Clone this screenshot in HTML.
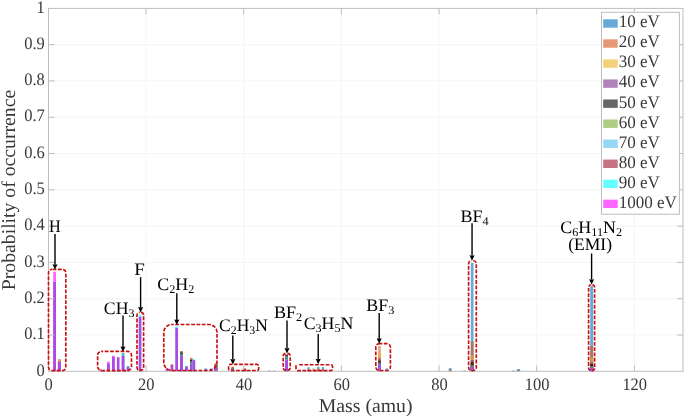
<!DOCTYPE html><html><head><meta charset="utf-8"><style>html,body{margin:0;padding:0;background:#fff;}svg{display:block;}text{font-family:"Liberation Serif","DejaVu Serif",serif;text-rendering:geometricPrecision;}</style></head><body>
<svg width="685" height="419" viewBox="0 0 685 419">
<rect x="0" y="0" width="685" height="419" fill="#fff"/>
<path d="M145.98 8.4V371.3 M243.66 8.4V371.3 M341.34 8.4V371.3 M439.02 8.4V371.3 M536.70 8.4V371.3 M634.38 8.4V371.3 M48.5 335.00H683.0 M48.5 298.71H683.0 M48.5 262.42H683.0 M48.5 226.12H683.0 M48.5 189.83H683.0 M48.5 153.53H683.0 M48.5 117.24H683.0 M48.5 80.94H683.0 M48.5 44.65H683.0" stroke="#f2f2f2" stroke-width="0.8" fill="none"/>
<rect x="53.2" y="271.7" width="2.80" height="99.60" fill="#ff66ff"/>
<rect x="53.2" y="282" width="2.80" height="89.30" fill="#ae49e5"/>
<rect x="57.9" y="359.1" width="3.10" height="12.20" fill="#e89875"/>
<rect x="57.9" y="360.3" width="3.10" height="11.00" fill="#eba742"/>
<rect x="57.9" y="361.5" width="3.10" height="9.80" fill="#ae49e5"/>
<rect x="99.8" y="369.6" width="2.00" height="1.70" fill="#ae49e5"/>
<rect x="107.0" y="361.6" width="2.80" height="9.70" fill="#ff66ff"/>
<rect x="107.0" y="363.8" width="2.80" height="7.50" fill="#ae49e5"/>
<rect x="112.0" y="355.8" width="2.70" height="15.50" fill="#ff66ff"/>
<rect x="112.0" y="356.7" width="2.70" height="14.60" fill="#ae49e5"/>
<rect x="116.9" y="357.2" width="2.60" height="14.10" fill="#ae49e5"/>
<rect x="121.7" y="352.9" width="2.70" height="18.40" fill="#3fc0cb"/>
<rect x="121.7" y="355.9" width="2.70" height="15.40" fill="#ae49e5"/>
<rect x="126.7" y="366.0" width="2.60" height="5.30" fill="#3fc0cb"/>
<rect x="126.7" y="367.2" width="2.60" height="4.10" fill="#ae49e5"/>
<rect x="138.75" y="314.7" width="2.60" height="56.60" fill="#66ffff"/>
<rect x="138.75" y="316.8" width="2.60" height="54.50" fill="#ae49e5"/>
<rect x="165.7" y="368.3" width="2.20" height="3.00" fill="#ae49e5"/>
<rect x="170.7" y="364.2" width="2.50" height="7.10" fill="#e89875"/>
<rect x="170.7" y="364.5" width="2.50" height="6.80" fill="#eba742"/>
<rect x="170.7" y="365" width="2.50" height="6.30" fill="#ae49e5"/>
<rect x="175.3" y="326.1" width="2.70" height="45.20" fill="#66ffff"/>
<rect x="175.3" y="327.9" width="2.70" height="43.40" fill="#ae49e5"/>
<rect x="180.2" y="351.0" width="2.60" height="20.30" fill="#ab7665"/>
<rect x="180.2" y="351.5" width="2.60" height="19.80" fill="#d3993c"/>
<rect x="180.2" y="352.0" width="2.60" height="19.30" fill="#a05a6d"/>
<rect x="180.2" y="352.8" width="2.60" height="18.50" fill="#40242c"/>
<rect x="180.2" y="353.5" width="2.60" height="17.80" fill="#61762e"/>
<rect x="180.2" y="354.1" width="2.60" height="17.20" fill="#55a1a1"/>
<rect x="180.2" y="354.4" width="2.60" height="16.90" fill="#834c5d"/>
<rect x="180.2" y="354.7" width="2.60" height="16.60" fill="#34b8be"/>
<rect x="180.2" y="355.9" width="2.60" height="15.40" fill="#ae49e5"/>
<rect x="185.0" y="366.1" width="2.60" height="5.20" fill="#e89875"/>
<rect x="185.0" y="366.3" width="2.60" height="5.00" fill="#eba742"/>
<rect x="185.0" y="366.5" width="2.60" height="4.80" fill="#aa5f70"/>
<rect x="185.0" y="366.6" width="2.60" height="4.70" fill="#38d1b6"/>
<rect x="185.0" y="366.7" width="2.60" height="4.60" fill="#27c8ac"/>
<rect x="185.0" y="366.8" width="2.60" height="4.50" fill="#22dada"/>
<rect x="185.0" y="367.0" width="2.60" height="4.30" fill="#35b8be"/>
<rect x="185.0" y="367.2" width="2.60" height="4.10" fill="#ae49e5"/>
<rect x="190.1" y="357.9" width="2.40" height="13.40" fill="#ab7665"/>
<rect x="190.1" y="358.5" width="2.40" height="12.80" fill="#d3993c"/>
<rect x="190.1" y="359.2" width="2.40" height="12.10" fill="#a05a6d"/>
<rect x="190.1" y="360.0" width="2.40" height="11.30" fill="#40242c"/>
<rect x="190.1" y="361.0" width="2.40" height="10.30" fill="#61762e"/>
<rect x="190.1" y="362.0" width="2.40" height="9.30" fill="#55a1a1"/>
<rect x="190.1" y="362.4" width="2.40" height="8.90" fill="#834c5d"/>
<rect x="190.1" y="362.8" width="2.40" height="8.50" fill="#34b8be"/>
<rect x="190.1" y="364.0" width="2.40" height="7.30" fill="#ae49e5"/>
<rect x="192.5" y="359.2" width="2.70" height="12.10" fill="#66ffff"/>
<rect x="192.5" y="360.2" width="2.70" height="11.10" fill="#ae49e5"/>
<rect x="204.6" y="368.2" width="2.50" height="3.10" fill="#66ffff"/>
<rect x="204.6" y="368.8" width="2.50" height="2.50" fill="#ae49e5"/>
<rect x="210.0" y="368.2" width="2.40" height="3.10" fill="#66ffff"/>
<rect x="210.0" y="368.8" width="2.40" height="2.50" fill="#ae49e5"/>
<rect x="214.7" y="363.0" width="2.50" height="8.30" fill="#e89875"/>
<rect x="214.7" y="363.6" width="2.50" height="7.70" fill="#eba742"/>
<rect x="214.7" y="364.2" width="2.50" height="7.10" fill="#aa5f70"/>
<rect x="214.7" y="364.8" width="2.50" height="6.50" fill="#44262d"/>
<rect x="214.7" y="365.2" width="2.50" height="6.10" fill="#63762f"/>
<rect x="214.7" y="365.8" width="2.50" height="5.50" fill="#56a1a1"/>
<rect x="214.7" y="366.0" width="2.50" height="5.30" fill="#834d5d"/>
<rect x="214.7" y="366.2" width="2.50" height="5.10" fill="#35b8be"/>
<rect x="214.7" y="366.5" width="2.50" height="4.80" fill="#ae49e5"/>
<rect x="231.6" y="366.6" width="2.30" height="4.70" fill="#e89875"/>
<rect x="231.6" y="367.0" width="2.30" height="4.30" fill="#eba742"/>
<rect x="231.6" y="367.4" width="2.30" height="3.90" fill="#aa5f70"/>
<rect x="231.6" y="367.8" width="2.30" height="3.50" fill="#44262d"/>
<rect x="231.6" y="368.2" width="2.30" height="3.10" fill="#63762f"/>
<rect x="231.6" y="368.6" width="2.30" height="2.70" fill="#56a1a1"/>
<rect x="231.6" y="368.8" width="2.30" height="2.50" fill="#35b8be"/>
<rect x="231.6" y="369.0" width="2.30" height="2.30" fill="#34b8be"/>
<rect x="231.6" y="369.2" width="2.30" height="2.10" fill="#ae49e5"/>
<rect x="243.8" y="368.0" width="2.30" height="3.30" fill="#e89875"/>
<rect x="243.8" y="368.6" width="2.30" height="2.70" fill="#eba742"/>
<rect x="243.8" y="369.2" width="2.30" height="2.10" fill="#aa5f70"/>
<rect x="243.8" y="369.6" width="2.30" height="1.70" fill="#44262d"/>
<rect x="268.3" y="370.4" width="2.30" height="0.90" fill="#ff66ff"/>
<rect x="273.0" y="370.4" width="2.60" height="0.90" fill="#adcd83"/>
<rect x="285.2" y="354.0" width="2.80" height="17.30" fill="#b282bb"/>
<rect x="285.2" y="355.0" width="2.80" height="16.30" fill="#47344b"/>
<rect x="285.2" y="355.8" width="2.80" height="15.50" fill="#647c3b"/>
<rect x="285.2" y="356.8" width="2.80" height="14.50" fill="#56a4a6"/>
<rect x="285.2" y="357.8" width="2.80" height="13.50" fill="#844d5f"/>
<rect x="285.2" y="358.6" width="2.80" height="12.70" fill="#35b8bf"/>
<rect x="285.2" y="360.0" width="2.80" height="11.30" fill="#ae49e5"/>
<rect x="307.3" y="367.3" width="2.40" height="4.00" fill="#66aad7"/>
<rect x="307.3" y="369.5" width="2.40" height="1.80" fill="#ab7665"/>
<rect x="312.3" y="368.6" width="2.30" height="2.70" fill="#e89875"/>
<rect x="312.3" y="369.4" width="2.30" height="1.90" fill="#eba742"/>
<rect x="317.1" y="366.8" width="2.40" height="4.50" fill="#66aad7"/>
<rect x="317.1" y="368.6" width="2.40" height="2.70" fill="#ab7665"/>
<rect x="317.1" y="369.2" width="2.40" height="2.10" fill="#d3993c"/>
<rect x="317.1" y="369.6" width="2.40" height="1.70" fill="#a05a6d"/>
<rect x="321.8" y="367.0" width="2.30" height="4.30" fill="#66aad7"/>
<rect x="321.8" y="369.2" width="2.30" height="2.10" fill="#ab7665"/>
<rect x="378.3" y="346.0" width="2.40" height="25.30" fill="#e89875"/>
<rect x="378.3" y="353.1" width="2.40" height="18.20" fill="#eba742"/>
<rect x="378.3" y="358.0" width="2.40" height="13.30" fill="#aa5f70"/>
<rect x="378.3" y="360.5" width="2.40" height="10.80" fill="#44262d"/>
<rect x="378.3" y="362.5" width="2.40" height="8.80" fill="#63762f"/>
<rect x="378.3" y="363.5" width="2.40" height="7.80" fill="#56a1a1"/>
<rect x="378.3" y="363.8" width="2.40" height="7.50" fill="#834d5d"/>
<rect x="378.3" y="364.0" width="2.40" height="7.30" fill="#35b8be"/>
<rect x="378.3" y="364.2" width="2.40" height="7.10" fill="#ae49e5"/>
<rect x="385.6" y="368.3" width="2.10" height="3.00" fill="#66aad7"/>
<rect x="448.8" y="368.1" width="2.80" height="3.20" fill="#66aad7"/>
<rect x="448.8" y="369.5" width="2.80" height="1.80" fill="#ab7665"/>
<rect x="463.2" y="370.5" width="2.60" height="0.80" fill="#66aad7"/>
<rect x="470.8" y="262.8" width="2.70" height="108.50" fill="#66aad7"/>
<rect x="470.8" y="341.3" width="2.70" height="30.00" fill="#ab7665"/>
<rect x="470.8" y="355.0" width="2.70" height="16.30" fill="#d3993c"/>
<rect x="470.8" y="360.0" width="2.70" height="11.30" fill="#a05a6d"/>
<rect x="470.8" y="362.0" width="2.70" height="9.30" fill="#40242c"/>
<rect x="470.8" y="365.0" width="2.70" height="6.30" fill="#61762e"/>
<rect x="470.8" y="366.0" width="2.70" height="5.30" fill="#55a1a1"/>
<rect x="470.8" y="366.3" width="2.70" height="5.00" fill="#834c5d"/>
<rect x="470.8" y="366.5" width="2.70" height="4.80" fill="#34b8be"/>
<rect x="470.8" y="366.8" width="2.70" height="4.50" fill="#ae49e5"/>
<rect x="512.0" y="370.5" width="2.90" height="0.80" fill="#66aad7"/>
<rect x="516.8" y="369.0" width="3.30" height="2.30" fill="#66aad7"/>
<rect x="516.8" y="370.0" width="3.30" height="1.30" fill="#ab7665"/>
<rect x="590.2" y="286.1" width="2.90" height="85.20" fill="#66aad7"/>
<rect x="590.2" y="346.0" width="2.90" height="25.30" fill="#ab7665"/>
<rect x="590.2" y="357.4" width="2.90" height="13.90" fill="#d3993c"/>
<rect x="590.2" y="362.2" width="2.90" height="9.10" fill="#a05a6d"/>
<rect x="590.2" y="364.0" width="2.90" height="7.30" fill="#40242c"/>
<rect x="590.2" y="366.0" width="2.90" height="5.30" fill="#61762e"/>
<rect x="590.2" y="366.8" width="2.90" height="4.50" fill="#55a1a1"/>
<rect x="590.2" y="367.2" width="2.90" height="4.10" fill="#834c5d"/>
<rect x="590.2" y="367.6" width="2.90" height="3.70" fill="#34b8be"/>
<rect x="590.2" y="368.0" width="2.90" height="3.30" fill="#ae49e5"/>
<path d="M145.98 371.3V365.3M145.98 8.4V14.4 M243.66 371.3V365.3M243.66 8.4V14.4 M341.34 371.3V365.3M341.34 8.4V14.4 M439.02 371.3V365.3M439.02 8.4V14.4 M536.70 371.3V365.3M536.70 8.4V14.4 M634.38 371.3V365.3M634.38 8.4V14.4 M48.5 335.00H54.5M683.0 335.00H677.0 M48.5 298.71H54.5M683.0 298.71H677.0 M48.5 262.42H54.5M683.0 262.42H677.0 M48.5 226.12H54.5M683.0 226.12H677.0 M48.5 189.83H54.5M683.0 189.83H677.0 M48.5 153.53H54.5M683.0 153.53H677.0 M48.5 117.24H54.5M683.0 117.24H677.0 M48.5 80.94H54.5M683.0 80.94H677.0 M48.5 44.65H54.5M683.0 44.65H677.0" stroke="#bdbdbd" stroke-width="1" fill="none"/>
<rect x="48.5" y="8.4" width="634.5" height="362.90000000000003" fill="none" stroke="#bdbdbd" stroke-width="1"/>
<rect x="48.5" y="269.3" width="17.30" height="101.30" rx="3.5" ry="3.5" fill="none" stroke="#c81010" stroke-width="1.65" stroke-dasharray="3.8 1.5" stroke-dashoffset="4.70"/>
<rect x="97.6" y="351.3" width="33.90" height="19.30" rx="4.0" ry="4.0" fill="none" stroke="#c81010" stroke-width="1.65" stroke-dasharray="3.8 1.5" stroke-dashoffset="2.20"/>
<rect x="137.0" y="312.3" width="6.60" height="58.10" rx="2.8" ry="2.8" fill="none" stroke="#c81010" stroke-width="1.65" stroke-dasharray="3.8 1.5" stroke-dashoffset="4.05"/>
<rect x="163.8" y="324.5" width="53.20" height="46.00" rx="8.0" ry="8.0" fill="none" stroke="#c81010" stroke-width="1.65" stroke-dasharray="3.8 1.5" stroke-dashoffset="1.85"/>
<rect x="228.6" y="364.4" width="30.10" height="6.10" rx="1.8" ry="1.8" fill="none" stroke="#c81010" stroke-width="1.65" stroke-dasharray="3.8 1.5" stroke-dashoffset="1.90"/>
<rect x="283.2" y="353.3" width="7.00" height="17.10" rx="2.8" ry="2.8" fill="none" stroke="#c81010" stroke-width="1.65" stroke-dasharray="3.8 1.5" stroke-dashoffset="3.85"/>
<rect x="296.0" y="364.7" width="36.60" height="5.90" rx="1.8" ry="1.8" fill="none" stroke="#c81010" stroke-width="1.65" stroke-dasharray="3.8 1.5" stroke-dashoffset="3.95"/>
<rect x="375.8" y="343.6" width="14.60" height="26.90" rx="3.5" ry="3.5" fill="none" stroke="#c81010" stroke-width="1.65" stroke-dasharray="3.8 1.5" stroke-dashoffset="0.75"/>
<rect x="468.6" y="260.7" width="7.70" height="109.80" rx="2.8" ry="2.8" fill="none" stroke="#c81010" stroke-width="1.65" stroke-dasharray="3.8 1.5" stroke-dashoffset="3.50"/>
<rect x="588.6" y="284.7" width="6.00" height="86.00" rx="2.6" ry="2.6" fill="none" stroke="#c81010" stroke-width="1.65" stroke-dasharray="3.8 1.5" stroke-dashoffset="4.15"/>
<path d="M55.0 234.0V264.70000000000005" stroke="#000" stroke-width="1.4" fill="none"/>
<path d="M55.0 269.6L52.45 264.20000000000005L55.0 264.70000000000005L57.55 264.20000000000005Z" fill="#000"/>
<path d="M123.0 315.4V346.90000000000003" stroke="#000" stroke-width="1.4" fill="none"/>
<path d="M123.0 351.8L120.45 346.40000000000003L123.0 346.90000000000003L125.55 346.40000000000003Z" fill="#000"/>
<path d="M140.6 277.2V307.50000000000006" stroke="#000" stroke-width="1.4" fill="none"/>
<path d="M140.6 312.40000000000003L138.04999999999998 307.00000000000006L140.6 307.50000000000006L143.15 307.00000000000006Z" fill="#000"/>
<path d="M176.8 293.2V320.1" stroke="#000" stroke-width="1.4" fill="none"/>
<path d="M176.8 325.0L174.25 319.6L176.8 320.1L179.35000000000002 319.6Z" fill="#000"/>
<path d="M232.8 335.4V359.50000000000006" stroke="#000" stroke-width="1.4" fill="none"/>
<path d="M232.8 364.40000000000003L230.25 359.00000000000006L232.8 359.50000000000006L235.35000000000002 359.00000000000006Z" fill="#000"/>
<path d="M287.0 320.4V348.50000000000006" stroke="#000" stroke-width="1.4" fill="none"/>
<path d="M287.0 353.40000000000003L284.45 348.00000000000006L287.0 348.50000000000006L289.55 348.00000000000006Z" fill="#000"/>
<path d="M318.2 333.9V359.3" stroke="#000" stroke-width="1.4" fill="none"/>
<path d="M318.2 364.2L315.65 358.8L318.2 359.3L320.75 358.8Z" fill="#000"/>
<path d="M379.2 312.9V338.8" stroke="#000" stroke-width="1.4" fill="none"/>
<path d="M379.2 343.7L376.65 338.3L379.2 338.8L381.75 338.3Z" fill="#000"/>
<path d="M472.05 223.3V255.79999999999998" stroke="#000" stroke-width="1.4" fill="none"/>
<path d="M472.05 260.7L469.5 255.29999999999998L472.05 255.79999999999998L474.6 255.29999999999998Z" fill="#000"/>
<path d="M591.6 253.5V279.70000000000005" stroke="#000" stroke-width="1.4" fill="none"/>
<path d="M591.6 284.6L589.0500000000001 279.20000000000005L591.6 279.70000000000005L594.15 279.20000000000005Z" fill="#000"/>
<rect x="601.5" y="12.3" width="77.90" height="201.90" fill="#fff" stroke="#bdbdbd" stroke-width="1"/>
<rect x="603.2" y="19.30" width="14.5" height="8.4" fill="#0072bd" fill-opacity="0.6"/>
<rect x="603.2" y="39.34" width="14.5" height="8.4" fill="#d95319" fill-opacity="0.6"/>
<rect x="603.2" y="59.38" width="14.5" height="8.4" fill="#edb120" fill-opacity="0.6"/>
<rect x="603.2" y="79.42" width="14.5" height="8.4" fill="#7e2f8e" fill-opacity="0.6"/>
<rect x="603.2" y="99.46" width="14.5" height="8.4" fill="#000000" fill-opacity="0.6"/>
<rect x="603.2" y="119.50" width="14.5" height="8.4" fill="#77ac30" fill-opacity="0.6"/>
<rect x="603.2" y="139.54" width="14.5" height="8.4" fill="#4dbeee" fill-opacity="0.6"/>
<rect x="603.2" y="159.58" width="14.5" height="8.4" fill="#a2142f" fill-opacity="0.6"/>
<rect x="603.2" y="179.62" width="14.5" height="8.4" fill="#00ffff" fill-opacity="0.6"/>
<rect x="603.2" y="199.66" width="14.5" height="8.4" fill="#ff00ff" fill-opacity="0.6"/>
<text transform="translate(49.04,231.50) scale(0.9277,1)" font-size="17.5" fill="#000"><tspan>H</tspan></text>
<text transform="translate(103.84,313.70) scale(1.0138,1)" font-size="17.5" fill="#000"><tspan>CH</tspan><tspan font-size="11.900" baseline-shift="-3.325">3</tspan></text>
<text transform="translate(134.16,274.60) scale(1.0857,1)" font-size="17.5" fill="#000"><tspan>F</tspan></text>
<text transform="translate(157.23,290.10) scale(1.0229,1)" font-size="17.5" fill="#000"><tspan>C</tspan><tspan font-size="11.900" baseline-shift="-3.325">2</tspan><tspan>H</tspan><tspan font-size="11.900" baseline-shift="-3.325">2</tspan></text>
<text transform="translate(219.05,330.70) scale(0.9990,1)" font-size="17.5" fill="#000"><tspan>C</tspan><tspan font-size="11.900" baseline-shift="-3.325">2</tspan><tspan>H</tspan><tspan font-size="11.900" baseline-shift="-3.325">3</tspan><tspan>N</tspan></text>
<text transform="translate(273.88,318.40) scale(1.0324,1)" font-size="17.5" fill="#000"><tspan>BF</tspan><tspan font-size="11.900" baseline-shift="-3.325">2</tspan></text>
<text transform="translate(303.64,329.40) scale(1.0178,1)" font-size="17.5" fill="#000"><tspan>C</tspan><tspan font-size="11.900" baseline-shift="-3.325">3</tspan><tspan>H</tspan><tspan font-size="11.900" baseline-shift="-3.325">5</tspan><tspan>N</tspan></text>
<text transform="translate(366.29,311.20) scale(1.0264,1)" font-size="17.5" fill="#000"><tspan>BF</tspan><tspan font-size="11.900" baseline-shift="-3.325">3</tspan></text>
<text transform="translate(460.59,221.50) scale(1.0280,1)" font-size="17.5" fill="#000"><tspan>BF</tspan><tspan font-size="11.900" baseline-shift="-3.325">4</tspan></text>
<text transform="translate(560.23,232.90) scale(1.0254,1)" font-size="17.5" fill="#000"><tspan>C</tspan><tspan font-size="11.900" baseline-shift="-3.325">6</tspan><tspan>H</tspan><tspan font-size="11.900" baseline-shift="-3.325">11</tspan><tspan>N</tspan><tspan font-size="11.900" baseline-shift="-3.325">2</tspan></text>
<text transform="translate(568.25,249.70) scale(1.0012,1)" font-size="17.5" fill="#000"><tspan>(EMI)</tspan></text>
<text transform="translate(318.79,411.70) scale(1.0126,1)" font-size="19.5" fill="#383838"><tspan>Mass (amu)</tspan></text>
<text transform="translate(14.60,290.21) rotate(-90) scale(1.0112,1)" font-size="19.5" fill="#383838"><tspan>Probability of occurrence</tspan></text>
<text transform="translate(44.54,389.75) scale(0.9400,1)" font-size="17.5" fill="#383838"><tspan>0</tspan></text>
<text transform="translate(138.11,389.75) scale(0.9400,1)" font-size="17.5" fill="#383838"><tspan>20</tspan></text>
<text transform="translate(235.79,389.75) scale(0.9400,1)" font-size="17.5" fill="#383838"><tspan>40</tspan></text>
<text transform="translate(333.47,389.75) scale(0.9400,1)" font-size="17.5" fill="#383838"><tspan>60</tspan></text>
<text transform="translate(431.15,389.75) scale(0.9400,1)" font-size="17.5" fill="#383838"><tspan>80</tspan></text>
<text transform="translate(524.71,389.75) scale(0.9400,1)" font-size="17.5" fill="#383838"><tspan>100</tspan></text>
<text transform="translate(622.39,389.75) scale(0.9400,1)" font-size="17.5" fill="#383838"><tspan>120</tspan></text>
<text transform="translate(36.58,375.50) scale(0.9400,1)" font-size="17.5" fill="#383838"><tspan>0</tspan></text>
<text transform="translate(24.24,339.20) scale(0.9400,1)" font-size="17.5" fill="#383838"><tspan>0.1</tspan></text>
<text transform="translate(24.24,302.91) scale(0.9400,1)" font-size="17.5" fill="#383838"><tspan>0.2</tspan></text>
<text transform="translate(24.24,266.62) scale(0.9400,1)" font-size="17.5" fill="#383838"><tspan>0.3</tspan></text>
<text transform="translate(24.24,230.32) scale(0.9400,1)" font-size="17.5" fill="#383838"><tspan>0.4</tspan></text>
<text transform="translate(24.24,194.03) scale(0.9400,1)" font-size="17.5" fill="#383838"><tspan>0.5</tspan></text>
<text transform="translate(24.24,157.73) scale(0.9400,1)" font-size="17.5" fill="#383838"><tspan>0.6</tspan></text>
<text transform="translate(24.24,121.44) scale(0.9400,1)" font-size="17.5" fill="#383838"><tspan>0.7</tspan></text>
<text transform="translate(24.24,85.14) scale(0.9400,1)" font-size="17.5" fill="#383838"><tspan>0.8</tspan></text>
<text transform="translate(24.24,48.85) scale(0.9400,1)" font-size="17.5" fill="#383838"><tspan>0.9</tspan></text>
<text transform="translate(36.58,12.55) scale(0.9400,1)" font-size="17.5" fill="#383838"><tspan>1</tspan></text>
<text transform="translate(618.64,27.35) scale(0.9726,1)" font-size="17.5" fill="#383838"><tspan>10 eV</tspan></text>
<text transform="translate(618.64,47.39) scale(0.9726,1)" font-size="17.5" fill="#383838"><tspan>20 eV</tspan></text>
<text transform="translate(618.64,67.43) scale(0.9726,1)" font-size="17.5" fill="#383838"><tspan>30 eV</tspan></text>
<text transform="translate(618.64,87.47) scale(0.9726,1)" font-size="17.5" fill="#383838"><tspan>40 eV</tspan></text>
<text transform="translate(618.64,107.51) scale(0.9726,1)" font-size="17.5" fill="#383838"><tspan>50 eV</tspan></text>
<text transform="translate(618.64,127.55) scale(0.9726,1)" font-size="17.5" fill="#383838"><tspan>60 eV</tspan></text>
<text transform="translate(618.64,147.59) scale(0.9726,1)" font-size="17.5" fill="#383838"><tspan>70 eV</tspan></text>
<text transform="translate(618.64,167.63) scale(0.9726,1)" font-size="17.5" fill="#383838"><tspan>80 eV</tspan></text>
<text transform="translate(618.64,187.67) scale(0.9726,1)" font-size="17.5" fill="#383838"><tspan>90 eV</tspan></text>
<text transform="translate(618.64,207.71) scale(0.9726,1)" font-size="17.5" fill="#383838"><tspan>1000 eV</tspan></text>
</svg></body></html>
